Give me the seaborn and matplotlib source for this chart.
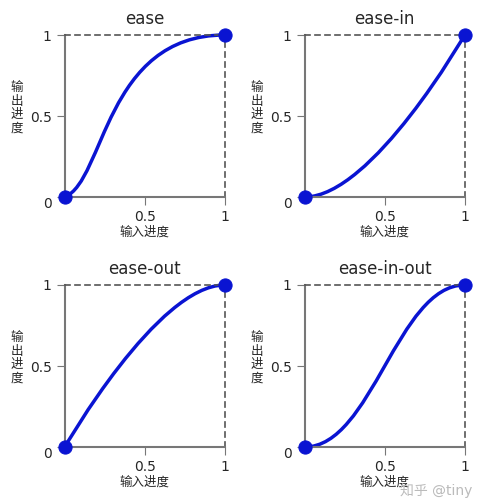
import matplotlib
matplotlib.use("Agg")
import matplotlib.pyplot as plt
from matplotlib.path import Path
from matplotlib.patches import PathPatch
import seaborn as sns
import pandas as pd

sns.set_style("white")
plt.rcParams["font.family"] = ["DejaVu Sans", "Noto Sans CJK SC"]

names = ["ease", "ease-in", "ease-out", "ease-in-out"]
# cubic-bezier control points (x1, y1, x2, y2)
controls = [
    (0.25, 0.1, 0.25, 1.0),
    (0.42, 0.0, 1.0, 1.0),
    (0.0, 0.0, 0.58, 1.0),
    (0.42, 0.0, 0.58, 1.0),
]
end_x = [0, 1]
end_y = [0, 1]

blue = "#0a14d2"
grey = "#777777"

fig = plt.figure(figsize=(4.8, 5.0), dpi=100)
rects = [
    [0.135, 0.606, 0.333, 0.324],
    [0.635, 0.606, 0.333, 0.324],
    [0.135, 0.106, 0.333, 0.324],
    [0.635, 0.106, 0.333, 0.324],
]

for name, (x1, y1, x2, y2), rect in zip(names, controls, rects):
    ax = fig.add_axes(rect)
    ax.set_xlim(0, 1)
    ax.set_ylim(0, 1)
    verts = [(0, 0), (x1, y1), (x2, y2), (1, 1)]
    path = Path(verts, [Path.MOVETO, Path.CURVE4, Path.CURVE4, Path.CURVE4])
    ax.add_patch(PathPatch(path, facecolor="none", edgecolor=blue, lw=2.5, clip_on=False))
    pts = pd.DataFrame({"x": end_x, "y": end_y})
    sns.scatterplot(data=pts, x="x", y="y", ax=ax, color=blue, s=90,
                    edgecolor=None, clip_on=False, zorder=5)
    for s in ["left", "bottom"]:
        ax.spines[s].set_color(grey)
        ax.spines[s].set_linewidth(1.5)
    for s in ["top", "right"]:
        ax.spines[s].set_color("#555555")
        ax.spines[s].set_linestyle((0, (3, 3)))
        ax.spines[s].set_linewidth(1.2)
    ax.set_xticks([0.5, 1])
    ax.set_xticklabels(["0.5", "1"])
    ax.set_yticks([0, 0.5, 1])
    ax.set_yticklabels(["0", "0.5", "1"])
    ax.tick_params(axis="both", direction="out", length=6, color=grey,
                   labelsize=10, left=True, bottom=True)
    ax.get_yticklabels()[0].set_va("top")
    ax.set_xlabel("输入进度", fontsize=9, labelpad=1)
    ax.set_ylabel("")
    ax.text(-0.3, 0.55, "输\n出\n进\n度", transform=ax.transAxes, fontsize=9,
            ha="center", va="center", linespacing=1.05)
    ax.set_title(name, fontsize=12, pad=8)

fig.text(0.985, 0.005, "知乎 @tiny", ha="right", va="bottom", fontsize=10,
         color="#bbbbbb")
fig.savefig("out.png", dpi=100)
